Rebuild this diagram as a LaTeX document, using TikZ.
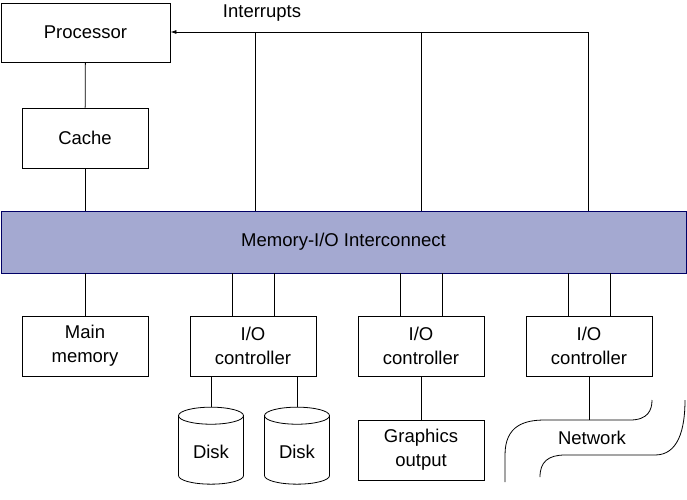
\documentclass[tikz,border=0pt]{standalone}
\usepackage{fontspec}
\setmainfont{Liberation Sans}
\usetikzlibrary{shapes.geometric,arrows.meta}
\begin{document}
\begin{tikzpicture}[x=1pt,y=-1pt,
 fnt/.style={font=\fontsize{18.5}{24}\selectfont},
 box/.style={draw,fnt,line width=0.8pt,minimum width=126pt,minimum height=60pt,align=center,inner sep=0pt},
 ln/.style={line width=0.8pt},
 disk/.style={cylinder,shape border rotate=90,draw,fnt,line width=0.8pt,minimum width=65pt,minimum height=77pt,aspect=0.4}]
\useasboundingbox (0,0) rectangle (687,499);
\definecolor{busc}{HTML}{A4A9D1}
\node[box,minimum width=169pt,minimum height=59pt] (proc) at (85.5,32.5) {Processor};
\node[box] (cache) at (85,138) {Cache};
\node[draw=black!60!blue,fill=busc,line width=0.8pt,minimum width=685pt,minimum height=62pt,inner sep=0pt,fnt] (bus) at (343.5,242) {Memory-I/O Interconnect};
\node[box] (mm) at (85,346) {Main\\memory};
\node[box] (io1) at (253,346) {I/O\\controller};
\node[box] (io2) at (421,346) {I/O\\controller};
\node[box] (io3) at (589,346) {I/O\\controller};
\node[box] (gfx) at (421,450) {Graphics\\output};
\node[disk] (d1) at (211,452) {Disk};
\node[disk] (d2) at (297,452) {Disk};
\node[fnt] (intl) at (262,13) {Interrupts};
\node[fnt] (net) at (592,438) {Network};
\coordinate (i0) at (588,32);
\coordinate (nt) at (589,420);
\draw[ln] (proc) -- (cache);
\draw[ln] (cache) -- (cache|-bus.north);
\draw[ln,-{Latex[length=6pt,width=4pt]}] (bus.north-|i0) -- (i0) -- (proc.east|-i0);
\draw[ln] (bus.north-|255,0) -- (255,32);
\draw[ln] (bus.north-|421,0) -- (421,32);
\draw[ln] (bus.south-|mm) -- (mm);
\foreach \x in {232,274,400,442,568,610} \draw[ln] (bus.south-|\x,0) -- (io1.north-|\x,0);
\draw[ln] (io1.south-|d1) -- (d1.top);
\draw[ln] (io1.south-|d2) -- (d2.top);
\draw[ln] (io2) -- (gfx);
\draw[ln] (io3) -- (nt);
\draw[ln] (505,482) -- (505,455) .. controls (505,425) and (525,420) .. (545,420) -- (630,420) .. controls (648,420) and (652,410) .. (652,400);
\draw[ln] (540,477) .. controls (540,462) and (548,455) .. (565,455) -- (655,455) .. controls (678,455) and (685,430) .. (685,400);
\end{tikzpicture}
\end{document}
